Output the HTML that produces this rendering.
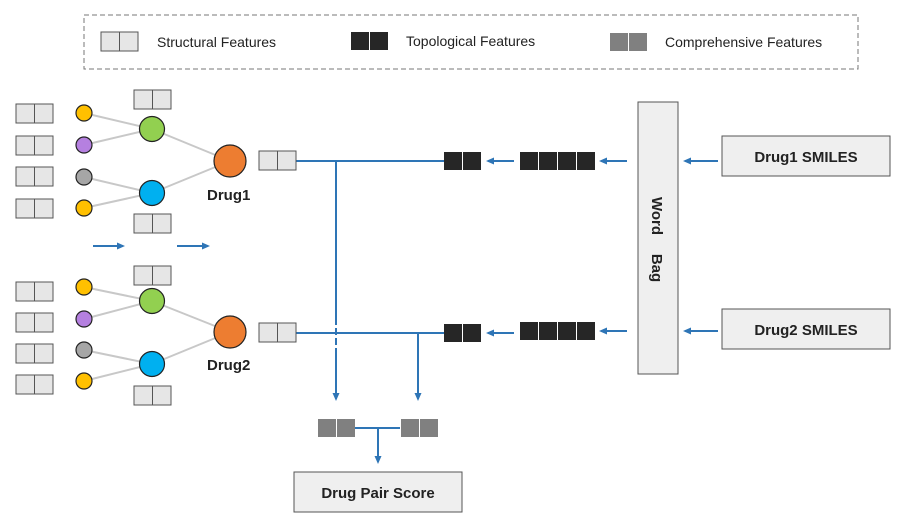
<!DOCTYPE html>
<html><head><meta charset="utf-8"><style>
html,body{margin:0;padding:0;background:#fff;}
svg{display:block;font-family:"Liberation Sans",sans-serif;}
</style></head><body>
<svg width="908" height="524" viewBox="0 0 908 524" xmlns="http://www.w3.org/2000/svg">
<defs>
<marker id="ah" markerWidth="8" markerHeight="8" refX="6" refY="4" orient="auto" markerUnits="userSpaceOnUse"><path d="M0,0.5 L8,4 L0,7.5 z" fill="#2e75b6"/></marker>
<g id="sb"><rect x="0" y="0" width="37" height="19" fill="#e6e6e6" stroke="#555" stroke-width="1"/><line x1="18.5" y1="0" x2="18.5" y2="19" stroke="#555"/></g>
<g id="bb"><rect x="0" y="0" width="18" height="18" fill="#262626"/><rect x="19" y="0" width="18" height="18" fill="#262626"/></g>
<g id="b4"><rect x="0" y="0" width="18" height="18" fill="#262626"/><rect x="19" y="0" width="18" height="18" fill="#262626"/><rect x="38" y="0" width="18" height="18" fill="#262626"/><rect x="57" y="0" width="18" height="18" fill="#262626"/></g>
<g id="gb"><rect x="0" y="0" width="18" height="18" fill="#808080"/><rect x="19" y="0" width="18" height="18" fill="#808080"/></g>
</defs>
<rect x="84" y="15" width="774" height="54" fill="none" stroke="#777" stroke-dasharray="5,3"/>
<use href="#sb" x="101" y="32"/>
<text x="157" y="47" font-size="14" fill="#222">Structural Features</text>
<use href="#bb" x="351" y="32"/>
<text x="406" y="46" font-size="14" fill="#222">Topological Features</text>
<use href="#gb" x="610" y="33"/>
<text x="665" y="47" font-size="14" fill="#222">Comprehensive Features</text>

<g stroke="#c8c8c8" stroke-width="2">
<line x1="84" y1="113" x2="152" y2="129"/><line x1="84" y1="145" x2="152" y2="129"/>
<line x1="84" y1="177" x2="152" y2="193"/><line x1="84" y1="208" x2="152" y2="193"/>
<line x1="152" y1="129" x2="230" y2="161"/><line x1="152" y1="193" x2="230" y2="161"/>
<line x1="84" y1="287" x2="152" y2="301"/><line x1="84" y1="319" x2="152" y2="301"/>
<line x1="84" y1="350" x2="152" y2="364"/><line x1="84" y1="381" x2="152" y2="364"/>
<line x1="152" y1="301" x2="230" y2="332"/><line x1="152" y1="364" x2="230" y2="332"/>
</g>
<use href="#sb" x="16" y="104"/><use href="#sb" x="16" y="136"/><use href="#sb" x="16" y="167"/><use href="#sb" x="16" y="199"/>
<use href="#sb" x="16" y="282"/><use href="#sb" x="16" y="313"/><use href="#sb" x="16" y="344"/><use href="#sb" x="16" y="375"/>
<use href="#sb" x="134" y="90"/><use href="#sb" x="134" y="214"/>
<use href="#sb" x="134" y="266"/><use href="#sb" x="134" y="386"/>
<g stroke="#222" stroke-width="1.2">
<circle cx="84" cy="113" r="8" fill="#ffc000"/><circle cx="84" cy="145" r="8" fill="#b580e0"/>
<circle cx="84" cy="177" r="8" fill="#a6a6a6"/><circle cx="84" cy="208" r="8" fill="#ffc000"/>
<circle cx="84" cy="287" r="8" fill="#ffc000"/><circle cx="84" cy="319" r="8" fill="#b580e0"/>
<circle cx="84" cy="350" r="8" fill="#a6a6a6"/><circle cx="84" cy="381" r="8" fill="#ffc000"/>
<circle cx="152" cy="129" r="12.5" fill="#92d050"/><circle cx="152" cy="193" r="12.5" fill="#00b0f0"/>
<circle cx="152" cy="301" r="12.5" fill="#92d050"/><circle cx="152" cy="364" r="12.5" fill="#00b0f0"/>
<circle cx="230" cy="161" r="16" fill="#ed7d31"/><circle cx="230" cy="332" r="16" fill="#ed7d31"/>
</g>
<text x="207" y="200" font-size="15" font-weight="bold" fill="#222">Drug1</text>
<text x="207" y="370" font-size="15" font-weight="bold" fill="#222">Drug2</text>
<g stroke="#2e75b6" stroke-width="2" fill="none">
<line x1="93" y1="246" x2="123" y2="246" marker-end="url(#ah)"/>
<line x1="177" y1="246" x2="208" y2="246" marker-end="url(#ah)"/>
<line x1="296" y1="161" x2="444" y2="161"/>
<line x1="296" y1="333" x2="444" y2="333"/>
<line x1="336" y1="161" x2="336" y2="318"/>
<line x1="336" y1="318" x2="336" y2="348" stroke-dasharray="7,3"/>
<line x1="336" y1="348" x2="336" y2="399" marker-end="url(#ah)"/>
<line x1="418" y1="333" x2="418" y2="399" marker-end="url(#ah)"/>
<line x1="355" y1="428" x2="400" y2="428"/>
<line x1="378" y1="428" x2="378" y2="462" marker-end="url(#ah)"/>
<line x1="514" y1="161" x2="488" y2="161" marker-end="url(#ah)"/>
<line x1="627" y1="161" x2="601" y2="161" marker-end="url(#ah)"/>
<line x1="718" y1="161" x2="685" y2="161" marker-end="url(#ah)"/>
<line x1="514" y1="333" x2="488" y2="333" marker-end="url(#ah)"/>
<line x1="627" y1="331" x2="601" y2="331" marker-end="url(#ah)"/>
<line x1="718" y1="331" x2="685" y2="331" marker-end="url(#ah)"/>
</g>
<use href="#sb" x="259" y="151"/><use href="#sb" x="259" y="323"/>
<use href="#bb" x="444" y="152"/><use href="#bb" x="444" y="324"/>
<use href="#b4" x="520" y="152"/>
<use href="#b4" x="520" y="322"/>
<use href="#gb" x="318" y="419"/><use href="#gb" x="401" y="419"/>
<rect x="638" y="102" width="40" height="272" fill="#efefef" stroke="#555"/>
<text transform="translate(652,216) rotate(90)" font-size="15" font-weight="bold" fill="#222" text-anchor="middle">Word</text>
<text transform="translate(652,268) rotate(90)" font-size="15" font-weight="bold" fill="#222" text-anchor="middle">Bag</text>
<rect x="722" y="136" width="168" height="40" fill="#efefef" stroke="#555"/>
<text x="806" y="162" font-size="15" font-weight="bold" fill="#222" text-anchor="middle">Drug1 SMILES</text>
<rect x="722" y="309" width="168" height="40" fill="#efefef" stroke="#555"/>
<text x="806" y="335" font-size="15" font-weight="bold" fill="#222" text-anchor="middle">Drug2 SMILES</text>
<rect x="294" y="472" width="168" height="40" fill="#efefef" stroke="#555"/>
<text x="378" y="498" font-size="15" font-weight="bold" fill="#222" text-anchor="middle">Drug Pair Score</text>
</svg>
</body></html>
